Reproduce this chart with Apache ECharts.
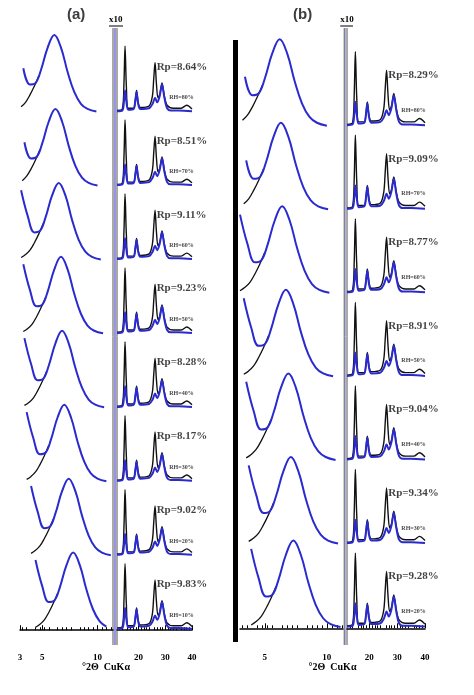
<!DOCTYPE html><html><head><meta charset="utf-8"><script src="https://cdn.jsdelivr.net/npm/echarts@6/dist/echarts.min.js"></script>
<style>body{margin:0;background:#fff}#c{width:474px;height:695px}</style></head><body><div id="c"></div><script>
// RH levels and Rp values
const rhA=['RH=80%','RH=70%','RH=60%','RH=50%','RH=40%','RH=30%','RH=20%','RH=10%'];
const rpA=['8.64','8.51','9.11','9.23','8.28','8.17','9.02','9.83'];
const peakA=[6.1,6.2,6.5,6.7,6.8,7.0,7.4,7.8];
const rhB=['RH=80%','RH=70%','RH=60%','RH=50%','RH=40%','RH=30%','RH=20%'];
const rpB=['8.29','9.09','8.77','8.91','9.04','9.34','9.28'];
const peakB=[6.2,6.3,6.4,6.7,6.9,7.1,7.3];
// low-angle profile: [offset from peak (°2θ), intensity]
const lowCalc=[[-3.4,0.95],[-2.8,0.6],[-2.2,0.38],[-1.7,0.4],[-1.2,0.58],[-0.6,0.88],[0,1.05],[0.6,0.88],[1.2,0.55],[1.8,0.28],[2.4,0.12],[3.0,0.05],[3.8,0.015],[6,0]];
const lowObsTail=[[-3.4,0.04],[-3.0,0.08],[-2.6,0.14],[-2.2,0.24],[-1.8,0.36],[-1.4,0.5]];
// high-angle profiles [2θ, intensity]
const highCalc=[[12,0.02],[14.0,0.03],[14.6,0.15],[15,0.3],[15.5,0.15],[16.2,0.04],[18.2,0.05],[18.8,0.15],[19.3,0.28],[19.9,0.12],[20.7,0.05],[24,0.06],[25.3,0.12],[26.2,0.2],[27,0.14],[27.9,0.22],[28.8,0.38],[29.7,0.2],[30.7,0.06],[32,0.03],[35,0.03],[40,0.02]];
const highObs=[[12,0.03],[14.0,0.05],[14.6,0.4],[15,0.9],[15.5,0.35],[16.2,0.06],[18.2,0.06],[18.8,0.16],[19.3,0.3],[19.9,0.14],[20.7,0.07],[24,0.09],[25.2,0.22],[25.7,0.45],[26.2,0.68],[26.7,0.4],[27.3,0.2],[28,0.25],[28.8,0.4],[29.7,0.22],[30.7,0.1],[33,0.06],[36,0.06],[38,0.1],[40,0.05]];
const BLUE='#2a2acf';
const ch=echarts.init(document.getElementById('c'));
const grids=[{left:20,width:93,top:35,bottom:50},{left:117,width:75,top:35,bottom:50},{left:240,width:103,top:35,bottom:50},{left:347,width:78,top:35,bottom:50}];
function xa(i,min,max,labs){return {gridIndex:i,type:'value',min,max,axisLine:{lineStyle:{color:'#000',width:1.5}},axisTick:{inside:true,length:5,customValues:labs,lineStyle:{color:'#000'}},minorTick:{show:true,splitNumber:5,length:3},splitLine:{show:false},axisLabel:{customValues:labs,fontFamily:'Liberation Serif',fontWeight:'bold',fontSize:9,color:'#000'}}}
const xAxis=[xa(0,3,11.4,[3,5,10]),xa(1,12,40,[20,30,40]),xa(2,3,11.3,[5,10]),xa(3,12,40,[20,30,40])];
const yAxis=[0,1,2,3].map(i=>({gridIndex:i,type:'value',min:-0.2,max:i<2?8.05:7.1,show:false}));
const series=[];
function add(panel,peaks,rh,rp){
  const n=peaks.length; const gl=panel*2, gh=panel*2+1;
  peaks.forEach((p,k)=>{const b=n-1-k;
    const lc=lowCalc.map(([dx,y])=>[p+dx,b+y]).filter(d=>d[0]>=3&&d[0]<=11.4);
    const lo=lowObsTail.map(([dx,y])=>[p+dx,b+y]).filter(d=>d[0]>=3);
    const L={type:'line',showSymbol:false,smooth:0.4,animation:false,clip:true};
    series.push({...L,xAxisIndex:gl,yAxisIndex:gl,data:lo,lineStyle:{color:'#111',width:1.3}});
    series.push({...L,xAxisIndex:gl,yAxisIndex:gl,data:lc,lineStyle:{color:BLUE,width:2}});
    series.push({...L,smooth:0.3,xAxisIndex:gh,yAxisIndex:gh,data:highObs.map(([x,y])=>[x,b+y]),lineStyle:{color:'#111',width:1.4}});
    series.push({...L,smooth:0.3,xAxisIndex:gh,yAxisIndex:gh,data:highCalc.map(([x,y])=>[x,b+y]),lineStyle:{color:BLUE,width:2}});
    series.push({type:'scatter',xAxisIndex:gh,yAxisIndex:gh,symbolSize:0,silent:true,animation:false,
      data:[{value:[26.8,b+0.62,'Rp='+rp[k]+'%'],label:{fontSize:11}},{value:[31.5,b+0.2,rh[k]],label:{fontSize:6}}],
      label:{show:true,position:'right',distance:0,fontFamily:'Liberation Serif',fontWeight:'bold',color:'#111',formatter:q=>q.value[2]}});
  });
}
add(0,peakA,rhA,rpA);add(1,peakB,rhB,rpB);
ch.setOption({animation:false,grid:grids,xAxis,yAxis,series,
 title:[{text:'(a)',left:62,top:2,textStyle:{fontFamily:'Liberation Sans',fontSize:15,fontWeight:'bold'}},{text:'(b)',left:288,top:2,textStyle:{fontFamily:'Liberation Sans',fontSize:15,fontWeight:'bold'}}]});
const P=(g,x,y)=>ch.convertToPixel({gridIndex:g},[x,y]);
const gr=[{type:'rect',shape:{x:233,y:40,width:5,height:602},style:{fill:'#000'}}];
[[0,1,8.05],[2,3,7.1]].forEach(([gl,gh,top])=>{
  const a=P(gl,11.4,-0.2);
  const h=P(gh,12,-0.2);
  gr.push({type:'rect',shape:{x:a[0]+1,y:28,width:h[0]-a[0]-2,height:a[1]-28},style:{fill:'#6a6ad8',opacity:0.7}});
  gr.push({type:'line',shape:{x1:a[0],y1:28,x2:a[0],y2:a[1]},style:{stroke:'#555',lineWidth:1}});
  gr.push({type:'line',shape:{x1:h[0],y1:28,x2:h[0],y2:a[1]},style:{stroke:'#555',lineWidth:1}});
  gr.push({type:'text',x:a[0]-4,y:15,style:{text:'x10',font:'bold 9px Liberation Serif',fill:'#000'}});
  gr.push({type:'line',shape:{x1:a[0]-4,y1:26,x2:h[0]+6,y2:26},style:{stroke:'#000',lineWidth:1}});
  const m=P(gl,3,0)[0];
  gr.push({type:'text',x:(m+P(gh,40,0)[0])/2,y:662,style:{text:'°2Θ  CuKα',font:'bold 10px Liberation Serif',fill:'#000',align:'center'}});
});
ch.setOption({graphic:gr});
</script></body></html>
